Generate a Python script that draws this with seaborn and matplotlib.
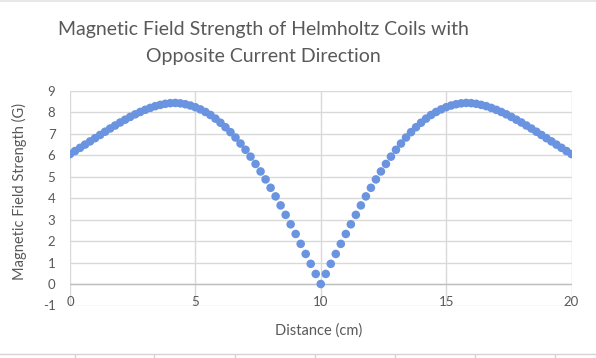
import numpy as np
import pandas as pd
import matplotlib
matplotlib.use('Agg')
import matplotlib.pyplot as plt
import seaborn as sns
from matplotlib.lines import Line2D

# Distance along the coil axis (cm)
distance_cm = [
    0.0, 0.2, 0.4, 0.6, 0.8, 1.0, 1.2, 1.4, 1.6, 1.8,
    2.0, 2.2, 2.4, 2.6, 2.8, 3.0, 3.2, 3.4, 3.6, 3.8,
    4.0, 4.2, 4.4, 4.6, 4.8, 5.0, 5.2, 5.4, 5.6, 5.8,
    6.0, 6.2, 6.4, 6.6, 6.8, 7.0, 7.2, 7.4, 7.6, 7.8,
    8.0, 8.2, 8.4, 8.6, 8.8, 9.0, 9.2, 9.4, 9.6, 9.8,
    10.0, 10.2, 10.4, 10.6, 10.8, 11.0, 11.2, 11.4, 11.6, 11.8,
    12.0, 12.2, 12.4, 12.6, 12.8, 13.0, 13.2, 13.4, 13.6, 13.8,
    14.0, 14.2, 14.4, 14.6, 14.8, 15.0, 15.2, 15.4, 15.6, 15.8,
    16.0, 16.2, 16.4, 16.6, 16.8, 17.0, 17.2, 17.4, 17.6, 17.8,
    18.0, 18.2, 18.4, 18.6, 18.8, 19.0, 19.2, 19.4, 19.6, 19.8,
    20.0,
]

# Field strength (G)
field_strength_g = [
    6.05, 6.19, 6.34, 6.49, 6.64, 6.79, 6.94, 7.09, 7.24, 7.38,
    7.52, 7.65, 7.78, 7.90, 8.01, 8.11, 8.20, 8.28, 8.34, 8.39,
    8.42, 8.43, 8.41, 8.37, 8.31, 8.23, 8.13, 8.01, 7.87, 7.70,
    7.51, 7.30, 7.07, 6.82, 6.54, 6.25, 5.93, 5.59, 5.24, 4.87,
    4.48, 4.08, 3.66, 3.22, 2.78, 2.33, 1.87, 1.40, 0.94, 0.47,
    0.00, 0.47, 0.94, 1.40, 1.87, 2.33, 2.78, 3.22, 3.66, 4.08,
    4.48, 4.87, 5.24, 5.59, 5.93, 6.25, 6.54, 6.82, 7.07, 7.30,
    7.51, 7.70, 7.87, 8.01, 8.13, 8.23, 8.31, 8.37, 8.41, 8.43,
    8.42, 8.39, 8.34, 8.28, 8.20, 8.11, 8.01, 7.90, 7.78, 7.65,
    7.52, 7.38, 7.24, 7.09, 6.94, 6.79, 6.64, 6.49, 6.34, 6.19,
    6.05,
]

x_ticks = [0, 5, 10, 15, 20]
y_ticks = [-1, 0, 1, 2, 3, 4, 5, 6, 7, 8, 9]

df = pd.DataFrame({'Distance': distance_cm, 'Field': field_strength_g})

sns.set_style('white')
plt.rcParams['font.family'] = ['Lato', 'DejaVu Sans']
plt.rcParams['axes.unicode_minus'] = False

text_color = '#595959'
grid_color = '#d9d9d9'

fig = plt.figure(figsize=(5.96, 3.58), dpi=100)
ax = fig.add_axes([70 / 596, 1 - 305.5 / 358, 501.5 / 596, 214.8 / 358])

# gridlines
for yv in y_ticks:
    ax.axhline(yv, color=grid_color, lw=1.0, zorder=0)
for xv in x_ticks:
    ax.axvline(xv, color=grid_color, lw=1.0, zorder=0)
ax.axhline(0, color='#bfbfbf', lw=1.0, zorder=0)

sns.scatterplot(data=df, x='Distance', y='Field', ax=ax, color='#6a93e0',
                s=38, edgecolor='none', zorder=3, legend=False)

ax.set_xlim(0, 20)
ax.set_ylim(-1, 9)
ax.set_xticks(x_ticks)
ax.set_yticks(y_ticks)
for s in ax.spines.values():
    s.set_visible(False)
ax.tick_params(axis='both', length=0, labelsize=9.5, colors=text_color)
ax.tick_params(axis='x', pad=-7)
ax.tick_params(axis='y', pad=10.5)

ax.set_xlabel('Distance (cm)', fontsize=10.5, color=text_color)
ax.set_ylabel('Magnetic Field Strength (G)', fontsize=10.5, color=text_color)
ax.xaxis.set_label_coords(0.4965, -0.083)
ax.yaxis.set_label_coords(-0.085, 0.53)

fig.text(263 / 596, 1 - 43 / 358,
         'Magnetic Field Strength of Helmholtz Coils with\nOpposite Current Direction',
         ha='center', va='center', fontsize=14, color=text_color, linespacing=1.75)

# spreadsheet cell lines around the chart
fig.add_artist(Line2D([0, 1], [1 - 0.5 / 358, 1 - 0.5 / 358], color='#e3e3e3', lw=1.2))
fig.add_artist(Line2D([0, 1], [1 - 354 / 358, 1 - 354 / 358], color='#d4d4d4', lw=1.0))
for xp in [74.5, 154.5, 234.5, 314.5, 394.5, 474.5, 554.5]:
    fig.add_artist(Line2D([xp / 596, xp / 596], [0, 1 - 354 / 358], color='#d4d4d4', lw=1.0))

plt.savefig('out.png', dpi=100)
